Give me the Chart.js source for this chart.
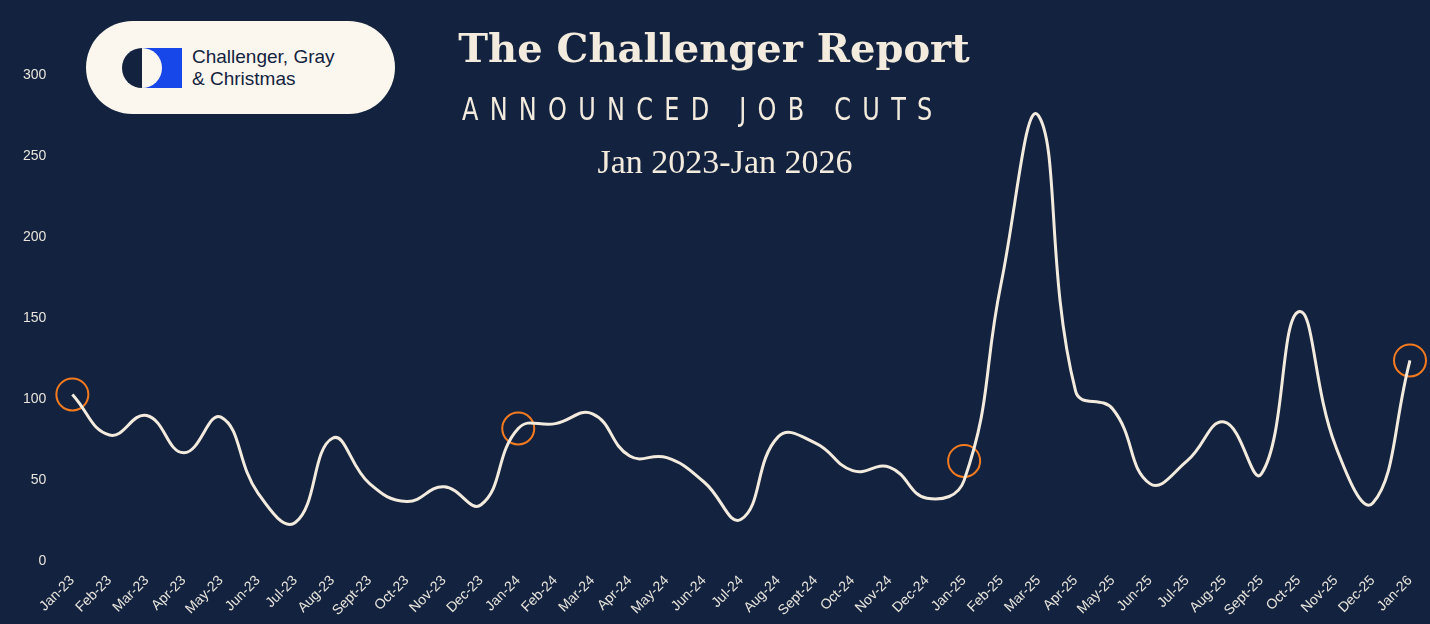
<!DOCTYPE html>
<html><head><meta charset="utf-8">
<script src="https://cdn.jsdelivr.net/npm/chart.js@4"></script>
<style>
html,body{margin:0;padding:0;background:#13233f;width:1430px;height:624px;overflow:hidden;font-family:"Liberation Sans",Arial,sans-serif}
#wrap{position:absolute;left:0;top:0;width:1430px;height:624px}
#logo{position:absolute;left:86px;top:21px;width:309px;height:93px;border-radius:47px;background:#fbf7ee;}
#logo .txt{position:absolute;left:106px;top:25px;font-size:19px;line-height:22px;color:#13233f}
#t1{position:absolute;left:0;width:1430px;top:24px;text-align:center;font-family:"DejaVu Serif",serif;font-weight:bold;font-size:40px;color:#f3ebdd;padding-left:0}
#t2{position:absolute;left:462px;top:90px;font-family:"DejaVu Sans",sans-serif;font-size:32px;letter-spacing:15px;color:#f3ebdd;transform:scaleX(0.75);transform-origin:left}
#t3{position:absolute;left:0;width:1450px;top:143px;text-align:center;font-family:"Liberation Serif",serif;font-size:34px;color:#f3ebdd}
</style></head><body>
<div id="wrap"><canvas id="c" width="1430" height="624"></canvas></div>
<div id="logo">
<svg style="position:absolute;left:35px;top:26px" width="62" height="42" viewBox="0 0 62 42">
<circle cx="21" cy="21" r="20" fill="#13233f"/>
<rect x="21" y="1" width="40" height="40" fill="#1747e8"/>
<path d="M21 1 A20 20 0 0 1 21 41 Z" fill="#fbf7ee"/>
</svg>
<div class="txt">Challenger, Gray<br>&amp; Christmas</div>
</div>
<div id="t1" style="left:-1px;width:1430px">The Challenger Report</div>
<div id="t2">ANNOUNCED JOB CUTS</div>
<div id="t3">Jan 2023-Jan 2026</div>
<script>
const labels=["Jan-23","Feb-23","Mar-23","Apr-23","May-23","Jun-23","Jul-23","Aug-23","Sept-23","Oct-23","Nov-23","Dec-23","Jan-24","Feb-24","Mar-24","Apr-24","May-24","Jun-24","Jul-24","Aug-24","Sept-24","Oct-24","Nov-24","Dec-24","Jan-25","Feb-25","Mar-25","Apr-25","May-25","Jun-25","Jul-25","Aug-25","Sept-25","Oct-25","Nov-25","Dec-25","Jan-26"];
const jobCuts=[103,78,90,67,89,42,24,76,48,37,46,35,82,85,91,65,64,49,26,77,73,56,58,39,50,172,275,105,94,48,62,86,54,154,71,36,124];
const highlightIdx=[0,12,24,36];
const highlightVals=[103,82,62,124];
const yTicks=[0,50,100,150,200,250,300];
const circles=labels.map((l,i)=>{const k=highlightIdx.indexOf(i);return k>=0?highlightVals[k]:null;});
new Chart(document.getElementById('c'),{
type:'line',
data:{labels:labels,datasets:[
{data:jobCuts,borderColor:'#f3ebdd',borderWidth:3,tension:0.45,pointRadius:0,fill:false},
{data:circles,showLine:false,pointRadius:16,pointBorderWidth:2,pointBorderColor:'#f47a20',pointBackgroundColor:'rgba(0,0,0,0)'}
]},
options:{responsive:false,animation:false,
layout:{padding:{left:5,right:20,top:20,bottom:2}},
plugins:{legend:{display:false},tooltip:{enabled:false}},
scales:{
x:{grid:{display:false},border:{display:false},offset:false,ticks:{color:'#e8e4dc',font:{size:14,family:'Liberation Sans'},maxRotation:45,minRotation:45,autoSkip:false}},
y:{min:0,max:330,grid:{display:false},border:{display:false},afterBuildTicks:a=>{a.ticks=yTicks.map(v=>({value:v}));},ticks:{color:'#e8e4dc',font:{size:14,family:'Liberation Sans'},padding:18}}
}}
});
</script>
</body></html>
